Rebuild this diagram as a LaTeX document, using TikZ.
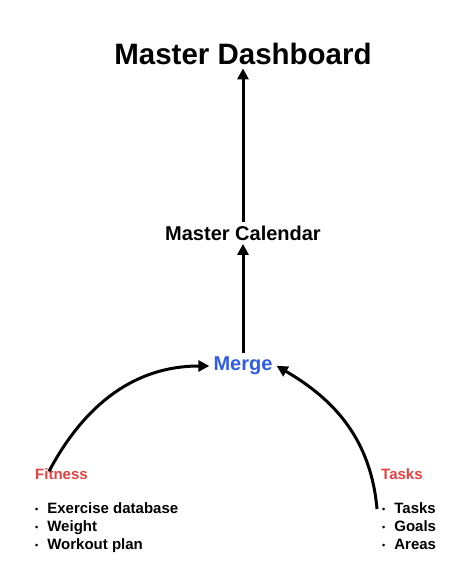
\documentclass[tikz,border=0pt]{standalone}
\usepackage{fontspec}
\setmainfont{Liberation Sans}
\usetikzlibrary{arrows.meta}

\definecolor{mergeblue}{HTML}{2E5BE8}
\definecolor{srcred}{HTML}{E5413F}

\newcommand{\dotitem}{\raisebox{1.5pt}{\fontsize{9}{9}\selectfont\textbullet}}

\begin{document}
\begin{tikzpicture}[x=1pt,y=-1pt,
	title/.style={font=\bfseries\fontsize{29.5}{34}\selectfont},
	stage/.style={font=\bfseries\fontsize{20}{24}\selectfont},
	source/.style={font=\bfseries\fontsize{15}{18}\selectfont, text=srcred, inner sep=0pt},
	items/.style={font=\bfseries\fontsize{15}{18}\selectfont, inner sep=0pt, align=left},
	flow/.style={-{Triangle[length=11pt,width=11pt]}, line width=3pt}]

	\useasboundingbox (0,0) rectangle (474,588);

	\node[title] (dash) at (243, 54) {Master Dashboard};
	\node[stage] (cal) at (243, 233) {Master Calendar};
	\node[stage, text=mergeblue, inner sep=4pt] (merge) at (243, 366) {Merge};

	\node[source, anchor=west] (fit) at (35, 474) {Fitness};
	\node[source, anchor=west] (tsk) at (381, 474) {Tasks};

	\node[items, anchor=north west] (fitlist) at (35, 501)
		{\begin{tabular}{@{}l@{\hspace{9pt}}l@{}}
			\dotitem & Exercise database \\
			\dotitem & Weight \\
			\dotitem & Workout plan
		\end{tabular}};
	\node[items, anchor=north west] (tsklist) at (382, 501)
		{\begin{tabular}{@{}l@{\hspace{9pt}}l@{}}
			\dotitem & Tasks \\
			\dotitem & Goals \\
			\dotitem & Areas
		\end{tabular}};

	\path[flow] (cal) edge (dash);
	\path[flow] (merge) edge (cal);
	\path[flow] ([shift={(14pt,-3pt)}]fit.north west) edge[out=62, in=180] (merge.west);
	\path[flow] ([shift={(-5pt,-8pt)}]tsklist.north west) edge[out=95, in=-30] (merge.east);

\end{tikzpicture}
\end{document}
